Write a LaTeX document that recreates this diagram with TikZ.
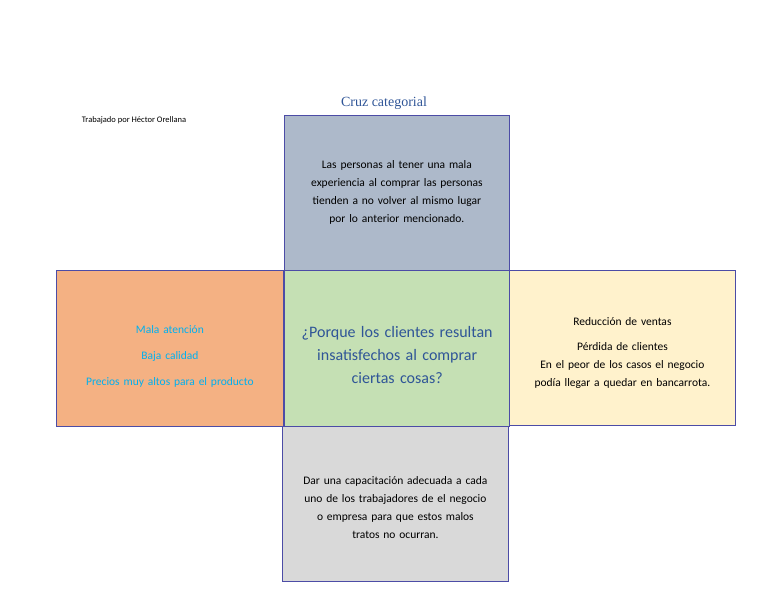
\documentclass[tikz,border=0pt]{standalone}
\usepackage{fontspec}
\setmainfont{Carlito}
\newfontfamily\titlefont{Liberation Serif}
\begin{document}
\begin{tikzpicture}[x=1pt,y=-1pt,
  box/.style={draw=blue!50!black!70, line width=0.8pt, anchor=north west, align=center, inner sep=0pt},
  txt/.style={font=\fontsize{11.5}{18}\selectfont, align=center}]
\useasboundingbox (0,0) rectangle (768,594);
\definecolor{topc}{HTML}{ADB9CA}
\definecolor{cenc}{HTML}{C5E0B4}
\definecolor{lefc}{HTML}{F4B183}
\definecolor{rigc}{HTML}{FFF2CC}
\definecolor{botc}{HTML}{D9D9D9}
\definecolor{cyant}{HTML}{00B0F0}
\definecolor{bluet}{HTML}{2F5597}
\node[box, fill=topc, minimum width=225, minimum height=155] (top) at (284,115) {};
\node[box, fill=lefc, minimum width=227, minimum height=156] (left) at (56,270) {};
\node[box, fill=rigc, minimum width=226, minimum height=155] (right) at (509,270) {};
\node[box, fill=botc, minimum width=226, minimum height=155] (bot) at (282,426) {};
\node[box, fill=cenc, minimum width=225, minimum height=156, line width=1.4pt] (cen) at (284,270) {};
\node[txt, text width=210] at (top.center) {Las personas al tener una mala\\experiencia al comprar las personas\\tienden a no volver al mismo lugar\\por lo anterior mencionado.};
\node[txt, text=cyant, text width=215, font=\fontsize{11.5}{26}\selectfont] at ([yshift=-8]left.center) {Mala atención\\Baja calidad\\Precios muy altos para el producto};
\node[txt, text width=215, font=\fontsize{11.5}{25}\selectfont] at ([yshift=-5]right.center) {Reducción de ventas\\Pérdida de clientes\\[-7pt]En el peor de los casos el negocio\\[-7pt]podía llegar a quedar en bancarrota.};
\node[txt, text=bluet, text width=220, font=\fontsize{16}{23}\selectfont] at ([yshift=-6]cen.center) {¿Porque los clientes resultan\\insatisfechos al comprar\\ciertas cosas?};
\node[txt, text width=220] at ([yshift=-4]bot.center) {Dar una capacitación adecuada a cada\\uno de los trabajadores de el negocio\\o empresa para que estos malos\\tratos no ocurran.};
\node[font=\titlefont\fontsize{14}{16}\selectfont, text=bluet] (title) at (384,103) {Cruz categorial};
\node[font=\fontsize{8.5}{10}\selectfont] (auth) at (134,120) {Trabajado por Héctor Orellana};
\end{tikzpicture}
\end{document}
